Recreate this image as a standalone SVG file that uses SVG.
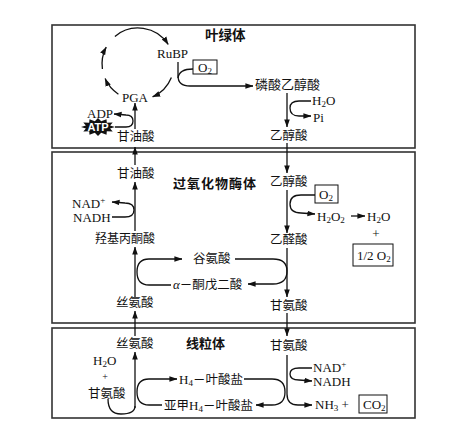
<svg xmlns="http://www.w3.org/2000/svg" width="474" height="437" viewBox="0 0 474 437">
<defs>
<marker id="ah" viewBox="0 0 10 10" refX="9.5" refY="5" markerWidth="8" markerHeight="8" orient="auto" markerUnits="userSpaceOnUse"><path d="M0,1.5 L10,5 L0,8.5 Z" fill="#111"/></marker>
<style>
.bx{fill:none;stroke:#333;stroke-width:1.6}
.ln{fill:none;stroke:#111;stroke-width:1.3}
.ar{marker-end:url(#ah)}
.cn{font-family:"Noto Sans CJK SC","Noto Sans CJK JP",sans-serif;font-size:12.5px;fill:#111}
.hd{font-family:"Noto Sans CJK SC","Noto Sans CJK JP",sans-serif;font-size:13.5px;font-weight:bold;fill:#111}
.lt{font-family:"Liberation Serif",serif;font-size:13px;fill:#111}
.sb{font-size:9px}
.tb{fill:none;stroke:#111;stroke-width:1}
</style>
</defs>
<rect id="chloroplast" class="bx" x="52" y="25" width="363" height="123"/>
<rect id="peroxisome" class="bx" x="52" y="152" width="363" height="171"/>
<rect id="mitochondrion" class="bx" x="52" y="328" width="363" height="90"/>

<g id="connectors">
<path class="ln ar" d="M114.9,36.4 A36,36 0 0 1 168.2,44.4"/>
<path class="ln ar" d="M102.4,69 A36,36 0 0 1 106.2,47.1"/>
<path class="ln ar" d="M118.4,94.2 A36,36 0 0 1 105.1,78.6"/>
<path class="ln ar" d="M171.4,77.5 A36,36 0 0 1 152.6,96.9"/>
<path class="ln ar" d="M178,62 L178,76 Q178,86 190,86 L253,86"/>
<path class="ln" d="M193,69 Q179,69 178,78"/>
<path class="ln ar" d="M287,93 L287,127"/>
<path class="ln ar" d="M311,101 L299,101 Q290,101 290,108 Q290,116 299,116 L311,116"/>
<path class="ln ar" d="M135,129 L135,103"/>
<path class="ln ar" d="M115,127 L126,127 Q133,127 133,121 Q133,115 126,115 L114,114"/>
<path class="ln ar" d="M135,165 L135,147"/>
<path class="ln ar" d="M287,143 L287,173"/>
<path class="ln ar" d="M287,190 L287,233"/>
<path class="ln ar" d="M315,195 L301,195 Q290,195 290,204 Q290,213 301,213 L315,214"/>
<path class="ln ar" d="M351,216 L365,216"/>
<path class="ln ar" d="M287,248 L287,297"/>
<path class="ln ar" d="M135,231 L135,182"/>
<path class="ln ar" d="M112,217 L125,217 Q134,217 134,210 Q134,203 125,203 L112,202"/>
<path class="ln ar" d="M135,297 L135,247"/>
<path class="ln ar" d="M171,285 L149,285 Q137,285 137,272 Q137,259 149,259 L182,259"/>
<path class="ln ar" d="M235,259 L273,259 Q287,259 287,271 Q287,284 273,284 L248,284"/>
<path class="ln ar" d="M135,336 L135,311"/>
<path class="ln ar" d="M287,313 L287,336"/>
<path class="ln ar" d="M135,408 L135,352"/>
<path class="ln" d="M108,399 Q108,414 121,414 Q135,414 135,406"/>
<path class="ln ar" d="M162,405 L149,405 Q137,405 137,392 Q137,379 149,379 L177,379"/>
<path class="ln ar" d="M244,379 L272,379 Q285,379 285,392 Q285,405 272,405 L256,405"/>
<path class="ln ar" d="M287,355 L287,394 Q287,405 298,405 L312,405"/>
<path class="ln ar" d="M312,368 L299,368 Q290,368 290,374 Q290,380 299,380 L312,381"/>
</g>

<g id="title-chloroplast"><text class="hd" x="205" y="39.5">叶绿体</text></g>
<g id="RuBP"><text class="lt" x="157" y="57.5">RuBP</text></g>
<g id="O2-chl"><rect class="tb" x="193" y="60" width="24" height="14"/><text class="lt" x="198" y="71.5">O<tspan class="sb" dy="2">2</tspan></text></g>
<g id="PGA"><text class="lt" x="122" y="101.5">PGA</text></g>
<g id="ADP"><text class="lt" x="87" y="117.5">ADP</text></g>
<g id="ATP"><polygon fill="#111" points="115,127 110.1,128.6 112.7,131.5 106.8,131.2 106.5,134.8 101.2,132.8 98,136 94.8,132.8 89.5,134.8 89.2,131.2 83.3,131.5 85.9,128.6 81,127 85.9,125.4 83.3,122.5 89.2,122.8 89.5,119.2 94.8,121.2 98,118 101.2,121.2 106.5,119.2 106.8,122.8 112.7,122.5 110.1,125.4"/><text x="98" y="131" text-anchor="middle" font-family="Liberation Sans, sans-serif" font-size="11" font-weight="bold" fill="#fff">ATP</text></g>
<g id="glycerate-chl"><text class="cn" x="117" y="140.5">甘油酸</text></g>
<g id="phosphoglycolate"><text class="cn" x="255" y="88.5" style="font-size:13px">磷酸乙醇酸</text></g>
<g id="H2O-Pi"><text class="lt" x="312" y="104.5">H<tspan class="sb" dy="2">2</tspan><tspan dy="-2">O</tspan></text><text class="lt" x="313" y="121.5">Pi</text></g>
<g id="glycolate-chl"><text class="cn" x="270" y="139.5">乙醇酸</text></g>

<g id="title-peroxisome"><text class="hd" x="173" y="187.5" style="font-size:13px;letter-spacing:1px">过氧化物酶体</text></g>
<g id="glycolate-per"><text class="cn" x="270" y="185.5">乙醇酸</text></g>
<g id="glycerate-per"><text class="cn" x="117" y="177.5">甘油酸</text></g>
<g id="O2-per"><rect class="tb" x="315" y="185" width="23" height="18"/><text class="lt" x="319" y="198.5">O<tspan class="sb" dy="2">2</tspan></text></g>
<g id="NAD-per"><text class="lt" x="72" y="207.5">NAD<tspan class="sb" dy="-5">+</tspan></text><text class="lt" x="73" y="221.5">NADH</text></g>
<g id="H2O2"><text class="lt" x="317" y="220.5">H<tspan class="sb" dy="2">2</tspan><tspan dy="-2">O</tspan><tspan class="sb" dy="2">2</tspan></text></g>
<g id="H2O-per"><text class="lt" x="367" y="220.5">H<tspan class="sb" dy="2">2</tspan><tspan dy="-2">O</tspan></text><text class="lt" x="376" y="237.5" text-anchor="middle">+</text></g>
<g id="halfO2"><rect class="tb" x="353" y="244" width="40" height="22"/><text class="lt" x="357" y="259.5">1/2 O<tspan class="sb" dy="2">2</tspan></text></g>
<g id="hydroxypyruvate"><text class="cn" x="95" y="242.5" style="font-size:12px">羟基丙酮酸</text></g>
<g id="glyoxylate"><text class="cn" x="270" y="243.5">乙醛酸</text></g>
<g id="glutamate"><text class="cn" x="193" y="262.5">谷氨酸</text></g>
<g id="ketoglutarate"><text class="cn" x="173" y="288.5"><tspan font-family="Liberation Serif, serif" font-style="italic" font-size="13">α</tspan>－酮戊二酸</text></g>
<g id="serine-per"><text class="cn" x="116" y="306.5">丝氨酸</text></g>
<g id="glycine-per"><text class="cn" x="270" y="309.5">甘氨酸</text></g>

<g id="title-mito"><text class="hd" x="186" y="347.5" style="font-size:13px">线粒体</text></g>
<g id="serine-mito"><text class="cn" x="116" y="347.5">丝氨酸</text></g>
<g id="glycine-mito"><text class="cn" x="270" y="350">甘氨酸</text></g>
<g id="H2O-glycine"><text class="lt" x="93" y="365">H<tspan class="sb" dy="2">2</tspan><tspan dy="-2">O</tspan></text><text class="lt" x="105" y="379.5" text-anchor="middle" style="font-size:10px">+</text><text class="cn" x="88" y="398">甘氨酸</text></g>
<g id="H4folate"><text class="cn" x="179" y="384"><tspan font-family="Liberation Serif, serif" font-size="13">H<tspan class="sb" dy="2">4</tspan></tspan><tspan dy="-2">－叶酸盐</tspan></text></g>
<g id="methylene-H4folate"><text class="cn" x="164" y="409.5">亚甲<tspan font-family="Liberation Serif, serif" font-size="13">H<tspan class="sb" dy="2">4</tspan></tspan><tspan dy="-2">－叶酸盐</tspan></text></g>
<g id="NAD-mito"><text class="lt" x="313" y="371.5">NAD<tspan class="sb" dy="-5">+</tspan></text><text class="lt" x="313" y="385.5">NADH</text></g>
<g id="NH3-CO2"><text class="lt" x="315" y="408.5">NH<tspan class="sb" dy="2">3</tspan><tspan dy="-2"> +</tspan></text><rect class="tb" x="359" y="395" width="28" height="18"/><text class="lt" x="363" y="408.5">CO<tspan class="sb" dy="2">2</tspan></text></g>
</svg>
